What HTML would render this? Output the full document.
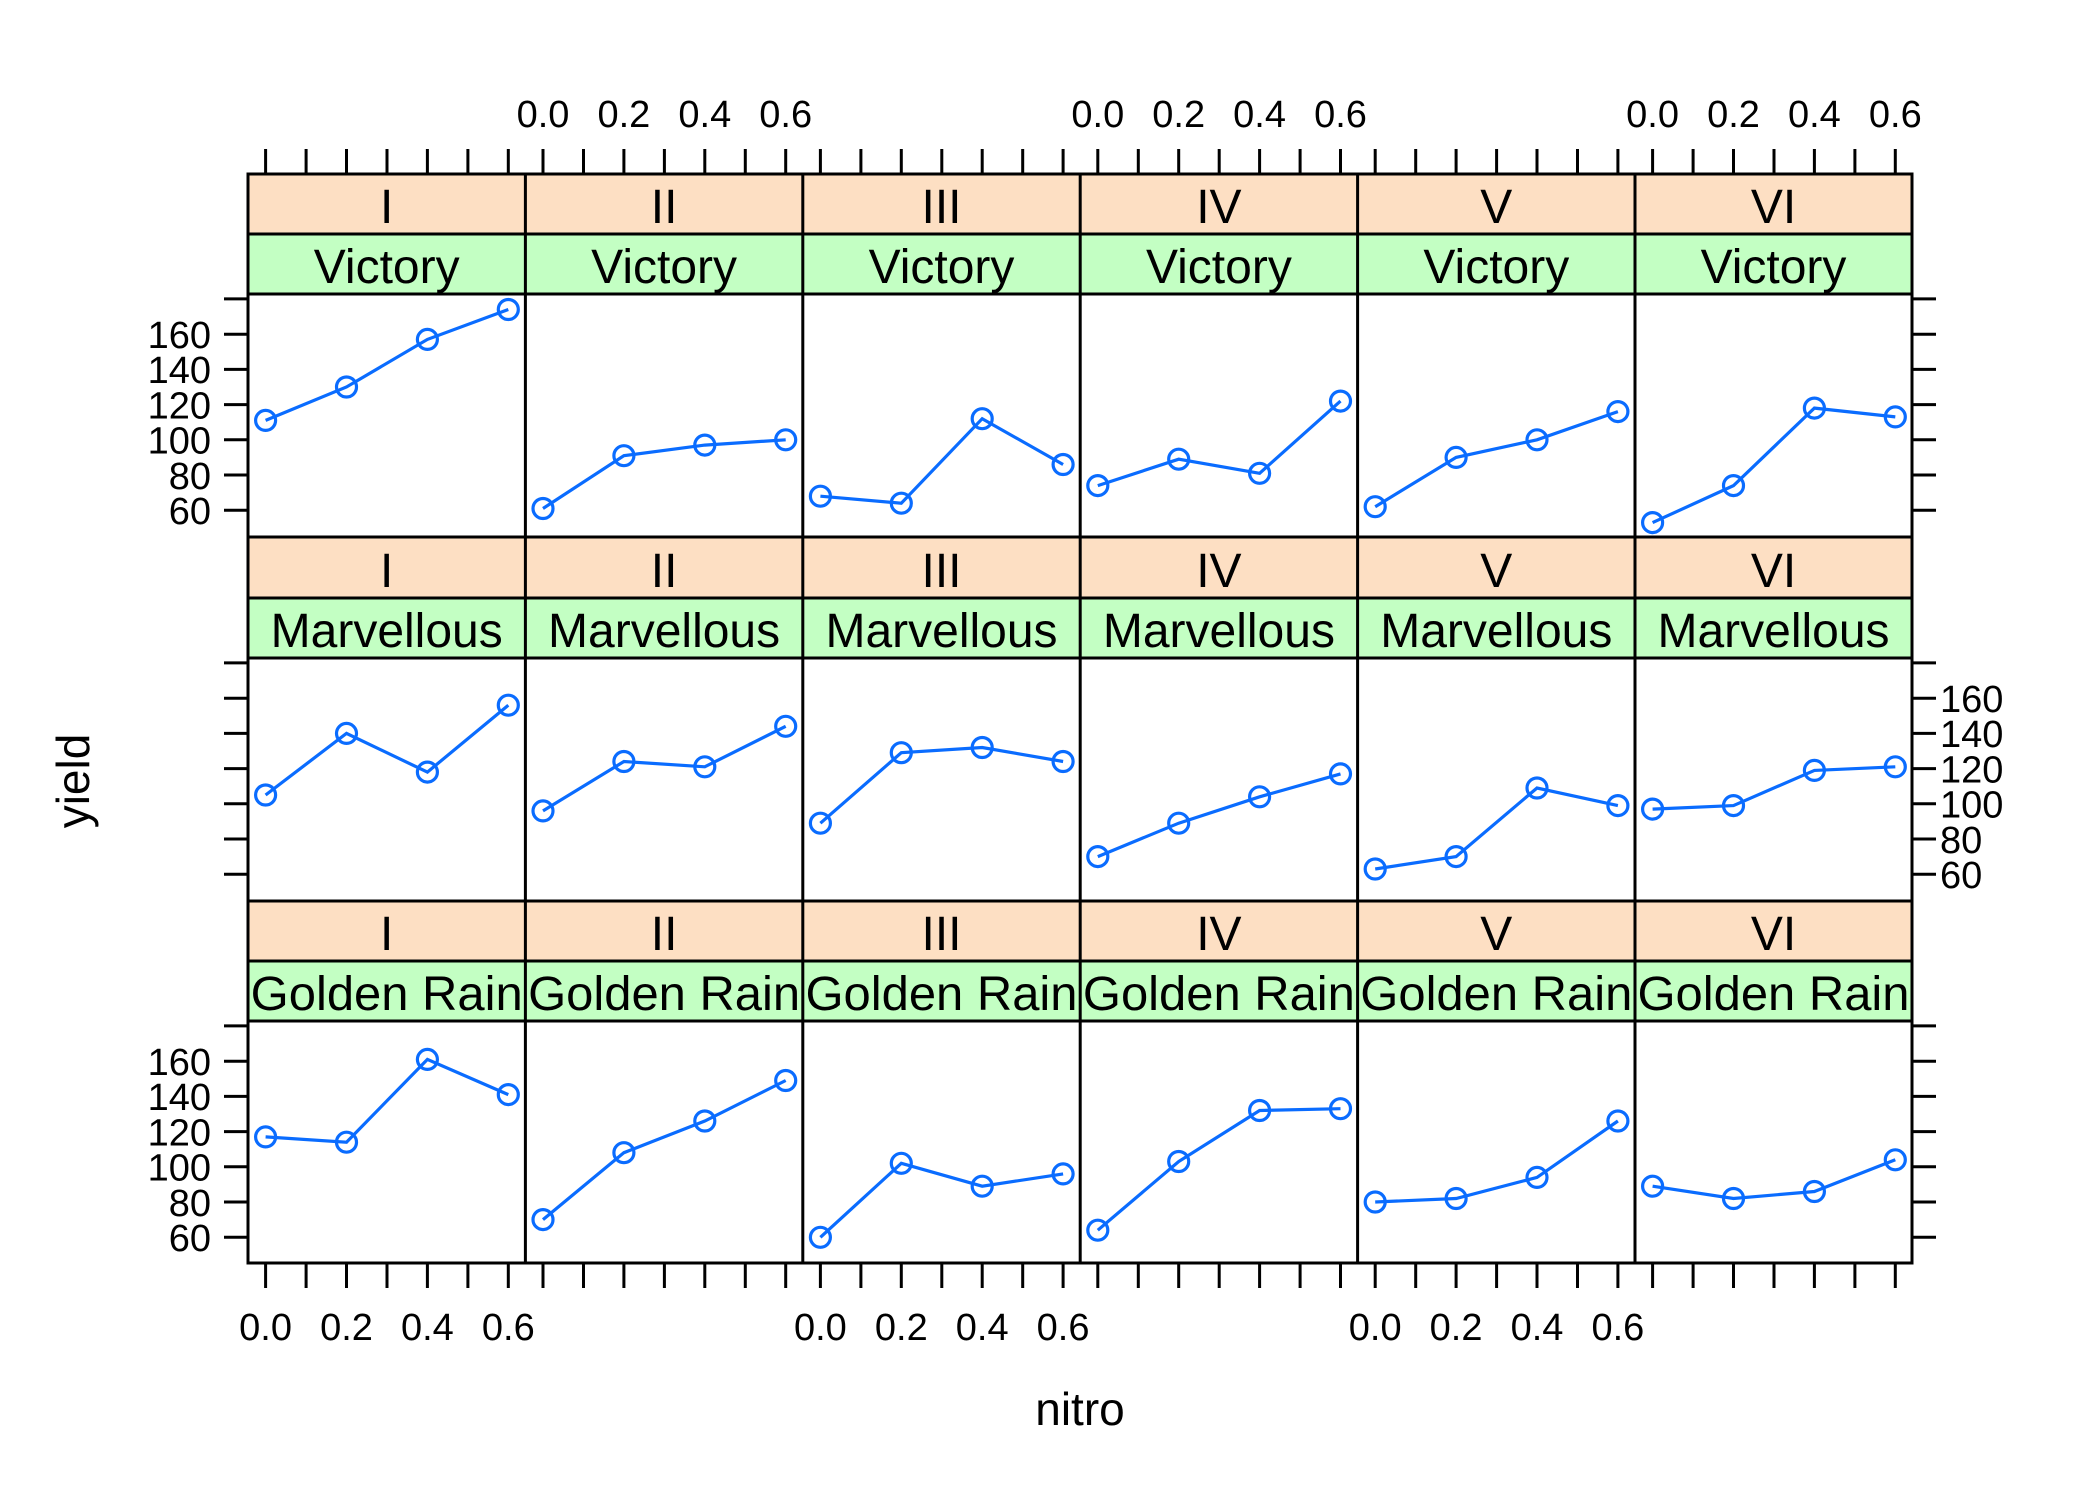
<!DOCTYPE html>
<html><head><meta charset="utf-8"><style>html,body{margin:0;padding:0;background:#fff}svg{display:block}</style></head>
<body>
<svg width="2100" height="1500" viewBox="0 0 2100 1500" xmlns="http://www.w3.org/2000/svg" font-family="Liberation Sans, sans-serif">
<defs>
<marker id="m" markerUnits="userSpaceOnUse" markerWidth="30" markerHeight="30" refX="15" refY="15" overflow="visible">
<circle cx="15" cy="15" r="10" fill="none" stroke="#0a6cff" stroke-width="3.2"/>
</marker>
</defs>
<rect width="2100" height="1500" fill="#fff"/>

<g stroke="#000" stroke-width="3">
<rect x="248" y="174" width="1664" height="60" fill="#fddfc3"/>
<rect x="248" y="234" width="1664" height="60" fill="#c3ffc3"/>
<rect x="248" y="537" width="1664" height="61" fill="#fddfc3"/>
<rect x="248" y="598" width="1664" height="60" fill="#c3ffc3"/>
<rect x="248" y="901" width="1664" height="60" fill="#fddfc3"/>
<rect x="248" y="961" width="1664" height="60" fill="#c3ffc3"/>
<rect x="248" y="294" width="1664" height="243" fill="none"/>
<rect x="248" y="658" width="1664" height="243" fill="none"/>
<rect x="248" y="1021" width="1664" height="242" fill="none"/>
<path d="M525.4,174V1263M802.8,174V1263M1080.2,174V1263M1357.6,174V1263M1635,174V1263" fill="none"/>
</g>

<g font-size="48" text-anchor="middle" fill="#000">
<text x="386.7" y="223">I</text><text x="664.1" y="223">II</text><text x="941.5" y="223">III</text><text x="1218.9" y="223">IV</text><text x="1496.3" y="223">V</text><text x="1773.5" y="223">VI</text>
<text x="386.7" y="283">Victory</text><text x="664.1" y="283">Victory</text><text x="941.5" y="283">Victory</text><text x="1218.9" y="283">Victory</text><text x="1496.3" y="283">Victory</text><text x="1773.5" y="283">Victory</text>
<text x="386.7" y="587">I</text><text x="664.1" y="587">II</text><text x="941.5" y="587">III</text><text x="1218.9" y="587">IV</text><text x="1496.3" y="587">V</text><text x="1773.5" y="587">VI</text>
<text x="386.7" y="647">Marvellous</text><text x="664.1" y="647">Marvellous</text><text x="941.5" y="647">Marvellous</text><text x="1218.9" y="647">Marvellous</text><text x="1496.3" y="647">Marvellous</text><text x="1773.5" y="647">Marvellous</text>
<text x="386.7" y="950">I</text><text x="664.1" y="950">II</text><text x="941.5" y="950">III</text><text x="1218.9" y="950">IV</text><text x="1496.3" y="950">V</text><text x="1773.5" y="950">VI</text>
</g>
<g font-size="48" text-anchor="middle" fill="#000" textLength="272" lengthAdjust="spacingAndGlyphs">
<text x="386.7" y="1010" textLength="272" lengthAdjust="spacingAndGlyphs">Golden Rain</text><text x="664.1" y="1010" textLength="272" lengthAdjust="spacingAndGlyphs">Golden Rain</text><text x="941.5" y="1010" textLength="272" lengthAdjust="spacingAndGlyphs">Golden Rain</text><text x="1218.9" y="1010" textLength="272" lengthAdjust="spacingAndGlyphs">Golden Rain</text><text x="1496.3" y="1010" textLength="272" lengthAdjust="spacingAndGlyphs">Golden Rain</text><text x="1773.5" y="1010" textLength="272" lengthAdjust="spacingAndGlyphs">Golden Rain</text>
</g>

<g stroke="#000" stroke-width="3" fill="none">
<path d="M17.6,174v-25M58.1,174v-25M98.5,174v-25M139,174v-25M179.4,174v-25M219.9,174v-25M260.3,174v-25M17.6,1263v25M58.1,1263v25M98.5,1263v25M139,1263v25M179.4,1263v25M219.9,1263v25M260.3,1263v25" transform="translate(248,0)"/>
<path d="M17.6,174v-25M58.1,174v-25M98.5,174v-25M139,174v-25M179.4,174v-25M219.9,174v-25M260.3,174v-25M17.6,1263v25M58.1,1263v25M98.5,1263v25M139,1263v25M179.4,1263v25M219.9,1263v25M260.3,1263v25" transform="translate(525.4,0)"/>
<path d="M17.6,174v-25M58.1,174v-25M98.5,174v-25M139,174v-25M179.4,174v-25M219.9,174v-25M260.3,174v-25M17.6,1263v25M58.1,1263v25M98.5,1263v25M139,1263v25M179.4,1263v25M219.9,1263v25M260.3,1263v25" transform="translate(802.8,0)"/>
<path d="M17.6,174v-25M58.1,174v-25M98.5,174v-25M139,174v-25M179.4,174v-25M219.9,174v-25M260.3,174v-25M17.6,1263v25M58.1,1263v25M98.5,1263v25M139,1263v25M179.4,1263v25M219.9,1263v25M260.3,1263v25" transform="translate(1080.2,0)"/>
<path d="M17.6,174v-25M58.1,174v-25M98.5,174v-25M139,174v-25M179.4,174v-25M219.9,174v-25M260.3,174v-25M17.6,1263v25M58.1,1263v25M98.5,1263v25M139,1263v25M179.4,1263v25M219.9,1263v25M260.3,1263v25" transform="translate(1357.6,0)"/>
<path d="M17.6,174v-25M58.1,174v-25M98.5,174v-25M139,174v-25M179.4,174v-25M219.9,174v-25M260.3,174v-25M17.6,1263v25M58.1,1263v25M98.5,1263v25M139,1263v25M179.4,1263v25M219.9,1263v25M260.3,1263v25" transform="translate(1635,0)"/>
<path d="M248,216.3h-24M248,181h-24M248,145.8h-24M248,110.6h-24M248,75.4h-24M248,40.2h-24M248,4.9h-24M1912,216.3h24M1912,181h24M1912,145.8h24M1912,110.6h24M1912,75.4h24M1912,40.2h24M1912,4.9h24" transform="translate(0,294)"/>
<path d="M248,216.3h-24M248,181h-24M248,145.8h-24M248,110.6h-24M248,75.4h-24M248,40.2h-24M248,4.9h-24M1912,216.3h24M1912,181h24M1912,145.8h24M1912,110.6h24M1912,75.4h24M1912,40.2h24M1912,4.9h24" transform="translate(0,658)"/>
<path d="M248,216.3h-24M248,181h-24M248,145.8h-24M248,110.6h-24M248,75.4h-24M248,40.2h-24M248,4.9h-24M1912,216.3h24M1912,181h24M1912,145.8h24M1912,110.6h24M1912,75.4h24M1912,40.2h24M1912,4.9h24" transform="translate(0,1021)"/>
</g>

<g font-size="38" fill="#000" text-anchor="middle">
<text x="543" y="127">0.0</text><text x="623.9" y="127">0.2</text><text x="704.8" y="127">0.4</text><text x="785.7" y="127">0.6</text>
<text x="1097.8" y="127">0.0</text><text x="1178.7" y="127">0.2</text><text x="1259.6" y="127">0.4</text><text x="1340.5" y="127">0.6</text>
<text x="1652.6" y="127">0.0</text><text x="1733.5" y="127">0.2</text><text x="1814.4" y="127">0.4</text><text x="1895.3" y="127">0.6</text>
<text x="265.6" y="1340">0.0</text><text x="346.5" y="1340">0.2</text><text x="427.4" y="1340">0.4</text><text x="508.3" y="1340">0.6</text>
<text x="820.4" y="1340">0.0</text><text x="901.3" y="1340">0.2</text><text x="982.2" y="1340">0.4</text><text x="1063.1" y="1340">0.6</text>
<text x="1375.2" y="1340">0.0</text><text x="1456.1" y="1340">0.2</text><text x="1537" y="1340">0.4</text><text x="1617.9" y="1340">0.6</text>
</g>
<g font-size="38" fill="#000" text-anchor="end">
<text x="211" y="524">60</text><text x="211" y="489">80</text><text x="211" y="453.5">100</text><text x="211" y="418.3">120</text><text x="211" y="383">140</text><text x="211" y="348">160</text>
<text x="211" y="1251">60</text><text x="211" y="1216">80</text><text x="211" y="1180.5">100</text><text x="211" y="1145.3">120</text><text x="211" y="1110">140</text><text x="211" y="1075">160</text>
</g>
<g font-size="38" fill="#000" text-anchor="start">
<text x="1940" y="888">60</text><text x="1940" y="853">80</text><text x="1940" y="817.5">100</text><text x="1940" y="782.3">120</text><text x="1940" y="747">140</text><text x="1940" y="712">160</text>
</g>

<text x="1080" y="1425" font-size="46" text-anchor="middle">nitro</text>
<text transform="translate(89,781) rotate(-90)" font-size="46" text-anchor="middle">yield</text>

<g fill="none" stroke="#0a6cff" stroke-width="3.2" marker-start="url(#m)" marker-mid="url(#m)" marker-end="url(#m)">
<g transform="translate(0,294)">
<polyline transform="translate(248,0)" points="17.6,126.4 98.5,93 179.4,45.4 260.3,15.5"/>
<polyline transform="translate(525.4,0)" points="17.6,214.5 98.5,161.7 179.4,151.1 260.3,145.8"/>
<polyline transform="translate(802.8,0)" points="17.6,202.2 98.5,209.2 179.4,124.7 260.3,170.5"/>
<polyline transform="translate(1080.2,0)" points="17.6,191.6 98.5,165.2 179.4,179.3 260.3,107.1"/>
<polyline transform="translate(1357.6,0)" points="17.6,212.7 98.5,163.4 179.4,145.8 260.3,117.6"/>
<polyline transform="translate(1635,0)" points="17.6,228.6 98.5,191.6 179.4,114.1 260.3,122.9"/>
</g>
<g transform="translate(0,658)">
<polyline transform="translate(248,0)" points="17.6,137 98.5,75.4 179.4,114.1 260.3,47.2"/>
<polyline transform="translate(525.4,0)" points="17.6,152.9 98.5,103.5 179.4,108.8 260.3,68.3"/>
<polyline transform="translate(802.8,0)" points="17.6,165.2 98.5,94.7 179.4,89.5 260.3,103.5"/>
<polyline transform="translate(1080.2,0)" points="17.6,198.6 98.5,165.2 179.4,138.8 260.3,115.9"/>
<polyline transform="translate(1357.6,0)" points="17.6,211 98.5,198.6 179.4,130 260.3,147.6"/>
<polyline transform="translate(1635,0)" points="17.6,151.1 98.5,147.6 179.4,112.4 260.3,108.8"/>
</g>
<g transform="translate(0,1021)">
<polyline transform="translate(248,0)" points="17.6,115.9 98.5,121.2 179.4,38.4 260.3,73.6"/>
<polyline transform="translate(525.4,0)" points="17.6,198.6 98.5,131.7 179.4,100 260.3,59.5"/>
<polyline transform="translate(802.8,0)" points="17.6,216.3 98.5,142.3 179.4,165.2 260.3,152.9"/>
<polyline transform="translate(1080.2,0)" points="17.6,209.2 98.5,140.5 179.4,89.5 260.3,87.7"/>
<polyline transform="translate(1357.6,0)" points="17.6,181 98.5,177.5 179.4,156.4 260.3,100"/>
<polyline transform="translate(1635,0)" points="17.6,165.2 98.5,177.5 179.4,170.5 260.3,138.8"/>
</g>
</g>
</svg>
</body></html>
